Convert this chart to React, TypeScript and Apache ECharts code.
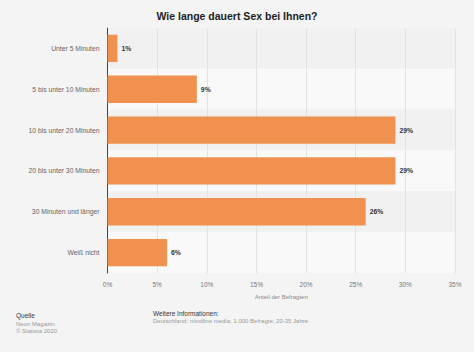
import React, { useEffect, useRef } from "react";
import * as echarts from "echarts";

const categories = [
  "Unter 5 Minuten",
  "5 bis unter 10 Minuten",
  "10 bis unter 20 Minuten",
  "20 bis unter 30 Minuten",
  "30 Minuten und länger",
  "Weiß nicht",
];
const values = [1, 9, 29, 29, 26, 6];
const xTicks = [0, 5, 10, 15, 20, 25, 30, 35];

export default function App() {
  const ref = useRef<HTMLDivElement>(null);
  useEffect(() => {
    if (!ref.current) return;
    const chart = echarts.init(ref.current, null, { renderer: "svg" });
    const font = "'Liberation Sans', Arial, sans-serif";
    chart.setOption({
      animation: false,
      backgroundColor: "#f4f4f4",
      textStyle: { fontFamily: font },
      title: {
        text: "Wie lange dauert Sex bei Ihnen?",
        left: "center",
        top: 5,
        textStyle: { fontSize: 10.5, fontWeight: "bold", color: "#222", fontFamily: font },
      },
      grid: { left: 107.5, right: 19, top: 28, bottom: 79, containLabel: false },
      xAxis: {
        type: "value",
        min: xTicks[0],
        max: xTicks[xTicks.length - 1],
        interval: 5,
        axisLine: { show: false },
        axisTick: { show: false },
        axisLabel: { formatter: "{value}%", color: "#777", fontSize: 6.5, margin: 8 },
        splitLine: { show: true, lineStyle: { color: "#e2e2e2", width: 1 } },
        name: "Anteil der Befragten",
        nameLocation: "middle",
        nameGap: 21,
        nameTextStyle: { color: "#888", fontSize: 6 },
      },
      yAxis: {
        type: "category",
        data: categories,
        inverse: true,
        axisLine: { show: true, lineStyle: { color: "#444", width: 1 } },
        axisTick: { show: false },
        axisLabel: { color: "#666", fontSize: 6.8, margin: 8 },
        splitArea: { show: true, areaStyle: { color: ["#f1f1f1", "#f9f9f9"] } },
      },
      series: [
        {
          type: "bar",
          data: values,
          barCategoryGap: "33%",
          itemStyle: { color: "#f0914f" },
          label: {
            show: true,
            position: "right",
            formatter: "{c}%",
            color: "#333",
            fontSize: 6.8,
            fontWeight: "bold",
            distance: 4,
          },
        },
      ],
      graphic: [
        { type: "text", left: 16, top: 312, style: { text: "Quelle", fill: "#333", fontSize: 6.5, fontFamily: font } },
        { type: "text", left: 16, top: 320.5, style: { text: "Neon Magazin", fill: "#999", fontSize: 6, fontFamily: font } },
        { type: "text", left: 16, top: 328, style: { text: "© Statista 2020", fill: "#999", fontSize: 6, fontFamily: font } },
        { type: "text", left: 153, top: 309.5, style: { text: "Weitere Informationen:", fill: "#333", fontSize: 6.5, fontFamily: font } },
        { type: "text", left: 153, top: 317.5, style: { text: "Deutschland; mindline media; 1.000 Befragte; 20-35 Jahre", fill: "#999", fontSize: 6, fontFamily: font } },
      ],
    });
    return () => chart.dispose();
  }, []);
  return <div ref={ref} style={{ position: "absolute", left: 0, top: 0, width: 474, height: 352 }} />;
}
